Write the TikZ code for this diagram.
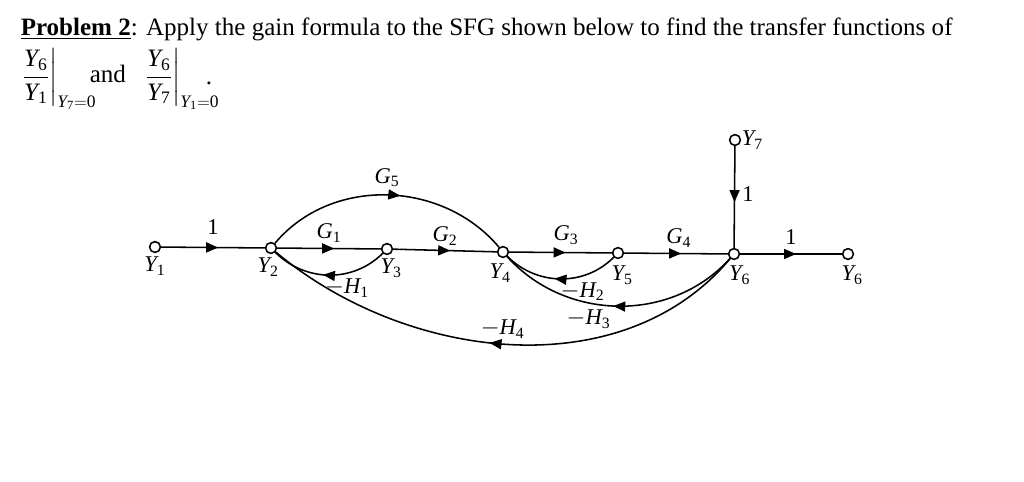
\documentclass[tikz,border=0pt]{standalone}
\usepackage{amsmath}
\usepackage{mathspec}
\setmainfont{Liberation Serif}
\setmathsfont(Digits,Latin){Liberation Serif}
\usetikzlibrary{arrows.meta,decorations.markings}

\tikzset{
  sfnode/.style={circle,draw,fill=white,inner sep=0pt,minimum size=0.27cm},
  gain/.style={font=\fontsize{16}{18}\selectfont,inner sep=1pt},
  midarrow/.style={postaction={decorate},
    decoration={markings,mark=at position #1 with {\arrow{>}}}},
  midarrow/.default=0.55
}

\begin{document}
\begin{tikzpicture}[x=0.025cm,y=0.025cm,line width=1.1pt,
  >={Triangle[length=0.3cm,width=0.25cm]},
  every label/.style={font=\fontsize{16}{18}\selectfont,label distance=-1pt}]
\useasboundingbox (0,0) rectangle (1024,-481);

%enonce
\node[anchor=base west,inner sep=0pt] (title) at (20,-35)
  {\fontsize{17.8}{20}\selectfont\underline{\textbf{Problem 2}}: Apply the gain formula to the SFG shown below to find the transfer functions of};
\node[anchor=west,inner sep=0pt] (frac1) at (20,-79)
  {\fontsize{17.8}{20}\selectfont$\left.\dfrac{Y_6}{Y_1}\right|_{Y_7=0}$};
\node[anchor=base west,inner sep=0pt] (andtxt) at (89,-82)
  {\fontsize{17.8}{20}\selectfont and};
\node[anchor=west,inner sep=0pt] (frac2) at (143,-79)
  {\fontsize{17.8}{20}\selectfont$\left.\dfrac{Y_6}{Y_7}\right|_{Y_1=0}$};
\node[anchor=base west,inner sep=0pt] (dot) at (205,-84)
  {\fontsize{17.8}{20}\selectfont .};
%fin

%noeuds
\node[sfnode,label=below:$Y_1$] (y1) at (155,-247) {};
\node[sfnode,label={[xshift=-2pt]below:$Y_2$}] (y2) at (271,-248) {};
\node[sfnode,label={[xshift=3pt]below:$Y_3$}] (y3) at (387,-249) {};
\node[sfnode,label={[xshift=-2pt,yshift=-1pt]below:$Y_4$}] (y4) at (503,-252) {};
\node[sfnode,label={[xshift=3pt,yshift=-2pt]below:$Y_5$}] (y5) at (618,-253) {};
\node[sfnode,label={[xshift=4pt,yshift=-1pt]below:$Y_6$}] (y6) at (734,-254) {};
\node[sfnode,label={[xshift=3pt,yshift=-1pt]below:$Y_6$}] (y6o) at (848,-254) {};
\node[sfnode,label={[inner sep=1pt]right:$Y_7$}] (y7) at (735,-140) {};
%fin

%branches directes
\draw[midarrow] (y1) -- node[gain,above=8pt]{1} (y2);
\draw[midarrow] (y2) -- node[gain,above=3pt]{$G_1$} (y3);
\draw[midarrow] (y3) -- node[gain,above=2pt]{$G_2$} (y4);
\draw[midarrow] (y4) -- node[gain,above=4pt,xshift=4pt]{$G_3$} (y5);
\draw[midarrow] (y5) -- node[gain,above=3pt,xshift=2pt]{$G_4$} (y6);
\draw[midarrow] (y6) -- node[gain,above=5pt]{1} (y6o);
\draw[midarrow] (y7) -- node[gain,right=4pt,yshift=2pt]{1} (y6);
\draw[midarrow] (y2) to[out=50,in=130] node[gain,above=4pt]{$G_5$} (y4);
%fin

%boucles
\draw[midarrow] (y3) to[out=-135,in=-45] node[gain,below=1pt,xshift=0.45cm]{$-H_1$} (y2);
\draw[midarrow] (y5) to[out=-135,in=-45] node[gain,below=1pt,xshift=0.55cm]{$-H_2$} (y4);
\draw[midarrow=0.52] (y6) to[out=-132,in=-48] node[gain,below=1pt,xshift=-0.75cm]{$-H_3$} (y4);
\draw[midarrow=0.53] (y6) to[out=-130,in=-40,looseness=0.95] node[gain,above=3pt,xshift=-0.2cm]{$-H_4$} (y2);
%fin
\end{tikzpicture}
\end{document}
